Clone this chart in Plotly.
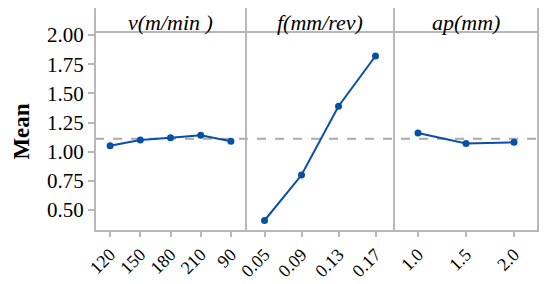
import plotly.graph_objects as go
from plotly.subplots import make_subplots

factors = ["v(m/min )", "f(mm/rev)", "ap(mm)"]
v_levels = ["120", "150", "180", "210", "90"]
v_means = [1.05, 1.10, 1.12, 1.14, 1.09]
f_levels = ["0.05", "0.09", "0.13", "0.17"]
f_means = [0.41, 0.80, 1.39, 1.82]
ap_levels = ["1.0", "1.5", "2.0"]
ap_means = [1.16, 1.07, 1.08]
grand_mean = 1.11
y_ticks = [0.50, 0.75, 1.00, 1.25, 1.50, 1.75, 2.00]

levels = [v_levels, f_levels, ap_levels]
means = [v_means, f_means, ap_means]

# page body has an 8px margin; size the figure to fit the visible window
W, H = 542, 276
ml, mr, mt, mb = 87, 12, 24, 53
ph = H - mt - mb
strip_h = 28
widths = [151, 148, 144]

blue = "#0750a8"
grey = "#b8b8b8"
font = "Liberation Serif, Times New Roman, serif"

fig = make_subplots(rows=1, cols=3, shared_yaxes=True, horizontal_spacing=0,
                    column_widths=widths)
for i in range(3):
    fig.add_trace(go.Scatter(x=levels[i], y=means[i], mode="lines+markers",
                             line=dict(color=blue, width=2),
                             marker=dict(color=blue, size=7),
                             cliponaxis=False, showlegend=False), row=1, col=i + 1)
    n = len(levels[i])
    fig.update_xaxes(type="category", range=[-0.5, n - 0.5], automargin=False,
                     showline=False,
                     ticks="outside", ticklen=5, tickcolor=grey, tickwidth=1.5,
                     tickangle=-45, showgrid=False, zeroline=False,
                     tickfont=dict(family=font, size=18, color="black"),
                     row=1, col=i + 1)
    fig.update_yaxes(range=[0.32, 2.026], tickvals=y_ticks, automargin=False,
                     ticktext=[f"{t:.2f}" for t in y_ticks],
                     showline=False,
                     ticks="outside" if i == 0 else "", ticklen=6, tickcolor=grey,
                     tickwidth=1.5, showgrid=False, zeroline=False,
                     tickfont=dict(family=font, size=21, color="black"),
                     row=1, col=i + 1)

fig.update_yaxes(title=dict(text="<b>Mean</b>", font=dict(family=font, size=23, color="black"),
                            standoff=10), row=1, col=1)

# grand mean reference line
fig.add_shape(type="line", xref="paper", yref="y", x0=0, x1=1,
              y0=grand_mean, y1=grand_mean,
              line=dict(color="#aaaaaa", width=2, dash="dash"), layer="below")

tot = sum(widths)
bounds = [0]
acc = 0
for w in widths:
    acc += w
    bounds.append(acc / tot)
y1 = 1 + strip_h / ph
for i in range(3):
    fig.add_shape(type="rect", xref="paper", yref="paper",
                  x0=bounds[i], x1=bounds[i + 1], y0=0, y1=1,
                  line=dict(color=grey, width=2), layer="above")
    fig.add_shape(type="rect", xref="paper", yref="paper",
                  x0=bounds[i], x1=bounds[i + 1], y0=1, y1=y1,
                  line=dict(color=grey, width=2), fillcolor="white")
    fig.add_annotation(xref="paper", yref="paper",
                       x=(bounds[i] + bounds[i + 1]) / 2, y=1,
                       text=f"<i>{factors[i]}</i>", showarrow=False,
                       font=dict(family=font, size=22, color="black"),
                       xanchor="center", yanchor="bottom", yshift=-4, borderpad=0)

fig.update_layout(width=W, height=H, margin=dict(l=ml, r=mr, t=mt, b=mb),
                  font=dict(family=font),
                  plot_bgcolor="white", paper_bgcolor="white")
fig.write_html("out.html")
